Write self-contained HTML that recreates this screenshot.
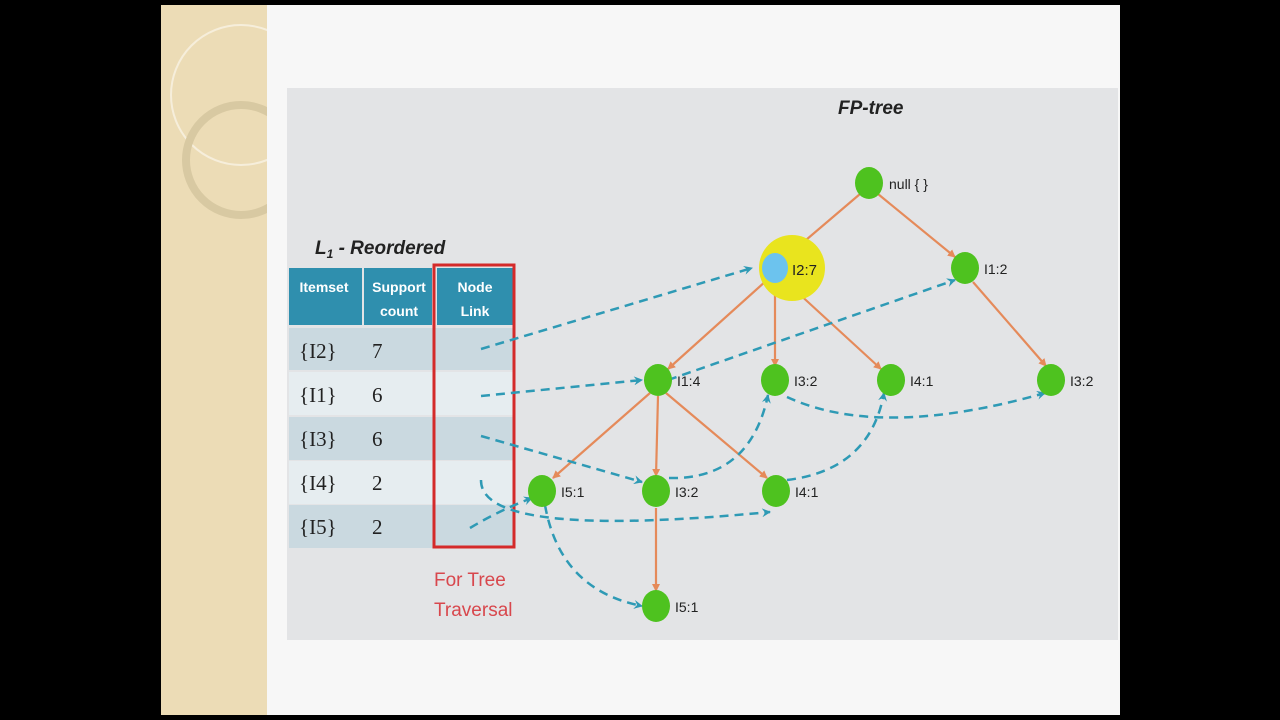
<!DOCTYPE html>
<html><head><meta charset="utf-8"><style>
body{margin:0;width:1280px;height:720px;background:#000;overflow:hidden;font-family:"Liberation Sans",sans-serif}
#slide{position:absolute;left:161px;top:5px;width:959px;height:710px;background:#f7f7f7}
#strip{position:absolute;left:161px;top:5px;width:106px;height:710px;background:#ecdcb6}
#pic{position:absolute;left:287px;top:88px;width:831px;height:552px;background:#e3e4e6}
</style></head><body>
<div id="slide"></div>
<div id="strip"></div>
<svg style="position:absolute;left:161px;top:5px" width="106" height="710">
<circle cx="80" cy="90" r="70" fill="none" stroke="#f6eedb" stroke-width="2"/>
<circle cx="80" cy="155" r="55" fill="none" stroke="#d8c9a2" stroke-width="8"/>
</svg>
<div id="pic"></div>
<svg style="position:absolute;left:0;top:0" width="1280" height="720">
<defs>
<marker id="o" markerWidth="8" markerHeight="8" refX="7" refY="4" orient="auto" markerUnits="userSpaceOnUse"><path d="M0,0L8,4L0,8z" fill="#e58a5a"/></marker>
<marker id="b" markerWidth="9" markerHeight="9" refX="8" refY="4.5" orient="auto" markerUnits="userSpaceOnUse"><path d="M0,0L9,4.5L0,9L3,4.5z" fill="#2e9ab5"/></marker>
</defs>
<text x="838" y="114" font-size="19" font-weight="bold" font-style="italic" fill="#222">FP-tree</text>
<text x="315" y="254" font-size="19" font-weight="bold" font-style="italic" fill="#222">L<tspan font-size="12" dy="4">1</tspan><tspan dy="-4"> - Reordered</tspan></text>
<!-- table -->
<g fill="#2f8fae"><rect x="289" y="268" width="73" height="57"/><rect x="364" y="268" width="68" height="57"/><rect x="437" y="268" width="76" height="57"/></g>
<g font-size="14" font-weight="bold" fill="#fff" text-anchor="middle">
<text x="324" y="292">Itemset</text><text x="399" y="292">Support</text><text x="399" y="316">count</text><text x="475" y="292">Node</text><text x="475" y="316">Link</text></g>
<g fill="#cad9e0"><rect x="289" y="328" width="224" height="42"/><rect x="289" y="417" width="224" height="43"/><rect x="289" y="505" width="224" height="43"/></g>
<g fill="#e6edf0"><rect x="289" y="372" width="224" height="43"/><rect x="289" y="461" width="224" height="43"/></g>
<g font-family="Liberation Serif,serif" font-size="21" fill="#222">
<text x="299" y="358">{I2}</text><text x="372" y="358">7</text>
<text x="299" y="402">{I1}</text><text x="372" y="402">6</text>
<text x="299" y="446">{I3}</text><text x="372" y="446">6</text>
<text x="299" y="490">{I4}</text><text x="372" y="490">2</text>
<text x="299" y="534">{I5}</text><text x="372" y="534">2</text></g>
<rect x="434" y="265" width="80" height="282" fill="none" stroke="#d42a2a" stroke-width="3"/>
<text x="434" y="586" font-size="19" fill="#d8474d">For Tree</text>
<text x="434" y="616" font-size="19" fill="#d8474d">Traversal</text>
<!-- orange edges -->
<g stroke="#e58a5a" stroke-width="2.2" marker-end="url(#o)" fill="none">
<line x1="860" y1="194" x2="786" y2="257"/><line x1="878" y1="194" x2="955" y2="257"/>
<line x1="767" y1="280" x2="668" y2="369"/><line x1="775" y1="284" x2="775" y2="366"/><line x1="784" y1="280" x2="881" y2="369"/>
<line x1="973" y1="282" x2="1046" y2="366"/>
<line x1="650" y1="393" x2="553" y2="478"/><line x1="658" y1="396" x2="656" y2="476"/><line x1="666" y1="393" x2="767" y2="478"/>
<line x1="656" y1="508" x2="656" y2="591"/>
</g>
<!-- blue dashed -->
<g stroke="#2e9ab5" stroke-width="2.5" stroke-dasharray="9,6" fill="none" marker-end="url(#b)">
<path d="M481,349 L752,268"/>
<path d="M481,396 L642,380"/>
<path d="M481,436 L642,482"/>
<path d="M668,380 L955,280"/>
<path d="M669,478 Q750,480 768,395"/>
<path d="M787,480 Q870,470 884,393"/>
<path d="M787,397 Q880,440 1045,393"/>
<path d="M470,528 Q500,510 532,498"/>
<path d="M481,480 Q480,540 770,512"/>
<path d="M545,505 Q560,590 642,606"/>
</g>
<!-- nodes -->
<circle cx="792" cy="268" r="33" fill="#e9e41e"/>
<g fill="#4ec21f">
<ellipse cx="869" cy="183" rx="14" ry="16"/><ellipse cx="965" cy="268" rx="14" ry="16"/>
<ellipse cx="658" cy="380" rx="14" ry="16"/><ellipse cx="775" cy="380" rx="14" ry="16"/><ellipse cx="891" cy="380" rx="14" ry="16"/><ellipse cx="1051" cy="380" rx="14" ry="16"/>
<ellipse cx="542" cy="491" rx="14" ry="16"/><ellipse cx="656" cy="491" rx="14" ry="16"/><ellipse cx="776" cy="491" rx="14" ry="16"/>
<ellipse cx="656" cy="606" rx="14" ry="16"/></g>
<ellipse cx="775" cy="268" rx="13" ry="15" fill="#6cc3ee"/>
<g font-size="14" fill="#222">
<text x="889" y="189">null { }</text><text x="792" y="275" font-size="15">I2:7</text><text x="984" y="274">I1:2</text>
<text x="677" y="386">I1:4</text><text x="794" y="386">I3:2</text><text x="910" y="386">I4:1</text><text x="1070" y="386">I3:2</text>
<text x="561" y="497">I5:1</text><text x="675" y="497">I3:2</text><text x="795" y="497">I4:1</text><text x="675" y="612">I5:1</text></g>
</svg>
</body></html>
